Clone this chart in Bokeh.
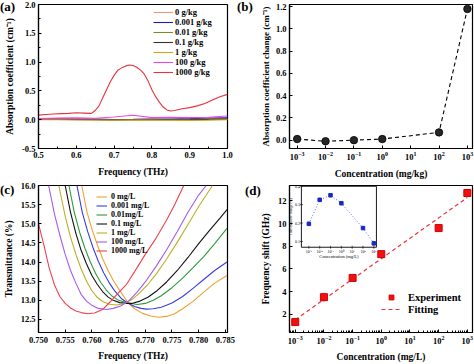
import math
from bokeh.plotting import figure
from bokeh.models import (Range1d, LogScale, FixedTicker, Legend, LegendItem, Div, GridBox,
                          Whisker, ColumnDataSource, NumeralTickFormatter, LogTicker)
from bokeh.embed import file_html
from bokeh.resources import INLINE
from bokeh.core.properties import value

FONT = "Liberation Serif"

# ---------------- Panel (a) data ----------------
a_labels = ["0 g/kg", "0.001 g/kg", "0.01 g/kg", "0.1 g/kg", "1 g/kg", "100 g/kg", "1000 g/kg"]
a_colors = ["#EA9A78", "#1A1AC8", "#7F8A2A", "#333333", "#D4A417", "#EE44EE", "#E8323C"]
a_x_small = [0.50, 0.55, 0.60, 0.65, 0.70, 0.75, 0.80, 0.85, 0.90, 0.95, 1.00]
a_y_0 = [0.005, 0.003, 0.002, 0.0, -0.005, 0.0, 0.002, 0.0, 0.003, 0.005, 0.01]
a_y_0001 = [0.012, 0.015, 0.012, 0.010, 0.004, 0.005, 0.010, 0.012, 0.018, 0.030, 0.032]
a_y_001 = [0.008, 0.010, 0.008, 0.006, 0.000, 0.004, 0.006, 0.005, 0.008, 0.012, 0.015]
a_y_01 = [0.004, 0.005, 0.003, 0.002, -0.004, 0.000, 0.002, 0.000, 0.002, 0.006, 0.010]
a_y_1 = [0.000, -0.002, -0.004, -0.006, -0.010, -0.008, -0.006, -0.010, -0.012, -0.008, 0.000]
a_y_100 = [0.020, 0.028, 0.032, 0.025, 0.048, 0.078, 0.036, 0.042, 0.036, 0.042, 0.065]
a_x_1000 = [0.50, 0.52, 0.54, 0.56, 0.58, 0.60, 0.62, 0.64, 0.65, 0.66, 0.67, 0.68, 0.69,
            0.70, 0.71, 0.72, 0.73, 0.74, 0.75, 0.76, 0.77, 0.78, 0.79, 0.80, 0.81, 0.82,
            0.83, 0.84, 0.85, 0.86, 0.88, 0.90, 0.92, 0.94, 0.96, 0.98, 1.00]
a_y_1000 = [0.08, 0.09, 0.10, 0.105, 0.11, 0.12, 0.115, 0.11, 0.16, 0.24, 0.38, 0.52, 0.66,
            0.77, 0.86, 0.90, 0.93, 0.95, 0.94, 0.91, 0.86, 0.79, 0.67, 0.52, 0.40, 0.30,
            0.22, 0.17, 0.15, 0.16, 0.19, 0.21, 0.24, 0.28, 0.34, 0.40, 0.44]
a_xticks = [0.5, 0.6, 0.7, 0.8, 0.9, 1.0]
a_yticks = [-0.5, 0.0, 0.5, 1.0, 1.5, 2.0]

# ---------------- Panel (b) data ----------------
b_conc = [1e-3, 1e-2, 1e-1, 1e0, 1e2, 1e3]
b_change = [0.01, -0.01, 0.0, 0.01, 0.07, 1.18]
b_yticks = [0.0, 0.2, 0.4, 0.6, 0.8, 1.0, 1.2]

# ---------------- Panel (c) data ----------------
c_labels = ["0 mg/L", "0.001 mg/L", "0.01mg/L", "0.1 mg/L", "1 mg/L", "100 mg/L", "1000 mg/L"]
c_colors = ["#F0A030", "#3A3AE6", "#2E9A3A", "#111111", "#BDB020", "#A55AF0", "#F0404E"]
c_x_0 = [0.7581, 0.7591, 0.7601, 0.7611, 0.7621, 0.7631, 0.7641, 0.7653, 0.7667, 0.7680,
         0.7695, 0.7710, 0.7725, 0.7740, 0.7755, 0.7770, 0.7790, 0.7810, 0.7830, 0.7853]
c_y_0 = [16.0, 15.3, 14.82, 14.42, 14.06, 13.76, 13.50, 13.24, 12.95, 12.78,
         12.66, 12.59, 12.56, 12.58, 12.65, 12.78, 12.98, 13.22, 13.45, 13.65]
c_x_0001 = [0.7572, 0.7582, 0.7592, 0.7602, 0.7612, 0.7622, 0.7632, 0.7642, 0.7655, 0.7667,
            0.7680, 0.7692, 0.7702, 0.7715, 0.7730, 0.7750, 0.7770, 0.7790, 0.7810, 0.7830, 0.7853]
c_y_0001 = [16.0, 15.3, 14.8, 14.38, 14.02, 13.72, 13.47, 13.26, 13.05, 12.93,
            12.84, 12.79, 12.77, 12.78, 12.82, 12.93, 13.10, 13.32, 13.55, 13.78, 14.0]
c_x_001 = [0.7557, 0.7567, 0.7577, 0.7587, 0.7597, 0.7607, 0.7617, 0.7627, 0.7637, 0.7650,
           0.7667, 0.7685, 0.7700, 0.7715, 0.7730, 0.7750, 0.7770, 0.7790, 0.7810, 0.7830, 0.7853]
c_y_001 = [16.0, 15.3, 14.78, 14.36, 14.0, 13.70, 13.46, 13.27, 13.12, 13.0,
           12.93, 12.89, 12.92, 13.0, 13.12, 13.33, 13.58, 13.86, 14.15, 14.48, 14.88]
c_x_01 = [0.7550, 0.7560, 0.7570, 0.7580, 0.7590, 0.7600, 0.7610, 0.7620, 0.7630, 0.7640,
          0.7652, 0.7665, 0.7675, 0.7690, 0.7705, 0.7720, 0.7740, 0.7760, 0.7780, 0.7800,
          0.7820, 0.7840, 0.7853]
c_y_01 = [16.0, 15.3, 14.75, 14.3, 13.95, 13.65, 13.42, 13.23, 13.09, 13.0,
          12.94, 12.92, 12.92, 12.98, 13.08, 13.23, 13.48, 13.78, 14.12, 14.48,
          14.82, 15.15, 15.37]
c_x_1 = [0.7538, 0.7550, 0.7560, 0.7570, 0.7580, 0.7590, 0.7600, 0.7610, 0.7620, 0.7633,
         0.7646, 0.7660, 0.7675, 0.7690, 0.7705, 0.7720, 0.7740, 0.7760, 0.7780, 0.7800, 0.7826]
c_y_1 = [16.0, 15.2, 14.65, 14.2, 13.82, 13.5, 13.25, 13.08, 12.97, 12.90,
         12.88, 12.91, 13.02, 13.20, 13.42, 13.68, 14.08, 14.52, 14.98, 15.45, 16.0]
c_x_100 = [0.7519, 0.7530, 0.7540, 0.7550, 0.7560, 0.7570, 0.7580, 0.7590, 0.7600, 0.7612,
           0.7628, 0.7640, 0.7655, 0.7670, 0.7685, 0.7700, 0.7720, 0.7740, 0.7760, 0.7780,
           0.7800, 0.7814]
c_y_100 = [16.0, 15.25, 14.70, 14.20, 13.78, 13.45, 13.15, 12.98, 12.87, 12.79,
           12.76, 12.79, 12.86, 13.00, 13.22, 13.48, 13.88, 14.32, 14.80, 15.30,
           15.75, 16.0]
c_x_1000 = [0.7500, 0.7510, 0.7520, 0.7530, 0.7540, 0.7550, 0.7560, 0.7570, 0.7580, 0.7592,
            0.7605, 0.7620, 0.7635, 0.7650, 0.7665, 0.7680, 0.7700, 0.7720, 0.7740, 0.7755, 0.7772]
c_y_1000 = [15.0, 14.45, 13.85, 13.40, 13.10, 12.92, 12.80, 12.72, 12.68, 12.65,
            12.67, 12.76, 12.97, 13.20, 13.42, 13.75, 14.20, 14.62, 15.10, 15.50, 16.0]
c_xticks = [0.750, 0.755, 0.760, 0.765, 0.770, 0.775, 0.780, 0.785]
c_yticks = [12.5, 13.0, 13.5, 14.0, 14.5, 15.0, 15.5, 16.0]

# ---------------- Panel (d) data ----------------
d_conc = [1e-3, 1e-2, 1e-1, 1e0, 1e2, 1e3]
d_shift = [1.3, 3.5, 5.2, 7.3, 9.6, 12.7]
d_err = [0.25, 0.4, 0.2, 0.3, 0.3, 0.3]
d_fit_x = [1e-3, 1e3]
d_fit_y = [1.5, 12.3]
d_yticks = [2, 4, 6, 8, 10, 12]
# inset
i_conc = [1e-3, 1e-2, 1e-1, 1e0, 1e2, 1e3]
i_change = [0.196, 0.326, 0.351, 0.308, 0.173, 0.090]
i_err = [0.012, 0.012, 0.010, 0.010, 0.010, 0.012]
i_yticks = [0.1, 0.2, 0.3, 0.4]
i_yticklabels = ["0.1", "0.2", "0.3", "0.4"]
i_xticks = [1e-3, 1e-2, 1e-1, 1e0, 1e1, 1e2, 1e3]
i_xticklabels = ["10⁻³", "10⁻²", "10⁻¹", "10⁰", "10¹", "10²", "10³"]

panel_letters = ["(a)", "(b)", "(c)", "(d)"]


def style(p, minor=True):
    p.outline_line_color = "black"
    p.outline_line_width = 1.2
    p.outline_line_alpha = 1
    p.grid.visible = False
    p.background_fill_color = "white"
    p.border_fill_color = "white"
    for ax in p.axis:
        ax.axis_line_width = 1.2
        ax.axis_line_color = "black"
        ax.major_tick_in = 3
        ax.major_tick_out = 0
        ax.minor_tick_in = 2 if minor else 0
        ax.minor_tick_out = 0
        ax.major_tick_line_width = 1
        ax.major_label_text_font = FONT
        ax.major_label_text_font_style = "bold"
        ax.major_label_text_font_size = "8.5px"
        ax.major_label_text_color = "black"
        ax.axis_label_text_font = FONT
        ax.axis_label_text_font_style = "bold"
        ax.axis_label_text_font_size = "9.5px"
        ax.axis_label_text_color = "black"
        ax.major_label_standoff = 3
        ax.axis_label_standoff = 4


def legend_style(lg, size):
    lg.border_line_color = None
    lg.background_fill_alpha = 0
    lg.label_text_font = FONT
    lg.label_text_font_style = "bold"
    lg.label_text_font_size = size
    lg.label_text_color = "black"
    lg.padding = 2
    lg.spacing = 0
    lg.margin = 0


def letter_div(txt, top, left):
    return Div(text=txt, width=22, height=16, margin=(top, 0, 0, left), align="start",
               styles={"font-family": FONT, "font-size": "13px", "font-weight": "bold",
                       "line-height": "13px", "color": "black"})


# ================= (a) =================
pa = figure(width=237, height=182, x_range=Range1d(0.5, 1.0), y_range=Range1d(-0.5, 2.0),
            output_backend="svg", toolbar_location=None,
            min_border_left=35, min_border_right=10, min_border_top=3, min_border_bottom=31)
a_series = [(a_x_small, a_y_0), (a_x_small, a_y_0001), (a_x_small, a_y_001),
            (a_x_small, a_y_01), (a_x_small, a_y_1), (a_x_small, a_y_100),
            (a_x_1000, a_y_1000)]
a_items = []
for (xs, ys), lab, col in zip(a_series, a_labels, a_colors):
    r = pa.line(xs, ys, line_color=col, line_width=1.1)
    a_items.append(LegendItem(label=lab, renderers=[r]))
pa.xaxis.axis_label = "Frequency (THz)"
pa.yaxis.axis_label = "Absorption coefficient (cm⁻¹)"
pa.xaxis.ticker = FixedTicker(ticks=a_xticks, minor_ticks=[0.55, 0.65, 0.75, 0.85, 0.95])
pa.yaxis.ticker = FixedTicker(ticks=a_yticks, minor_ticks=[-0.25, 0.25, 0.75, 1.25, 1.75])
pa.xaxis.formatter = NumeralTickFormatter(format="0.0")
pa.yaxis.formatter = NumeralTickFormatter(format="0.0")
style(pa)
pa.xaxis.axis_label_standoff = 6
lga = Legend(items=a_items, location=(115, 71), glyph_width=20, glyph_height=10,
             label_height=10, label_standoff=2)
legend_style(lga, "8.5px")
pa.add_layout(lga)

# ================= (b) =================
bx0, bx1 = 10 ** -3.27, 10 ** 3.18
pb = figure(width=237, height=182, x_axis_type="log", x_range=Range1d(bx0, bx1),
            y_range=Range1d(-0.075, 1.22), output_backend="svg", toolbar_location=None,
            min_border_left=52, min_border_right=2, min_border_top=4, min_border_bottom=34)
pb.line(b_conc, b_change, line_color="black", line_width=1.1, line_dash="4 3")
pb.scatter(b_conc, b_change, size=7.5, fill_color="#262626", line_color="black", line_width=0.8)
pb.xaxis.axis_label = "Concentration (mg/kg)"
pb.yaxis.axis_label = "Absorption coefficient change (cm⁻¹)"
pb.xaxis.ticker = LogTicker(num_minor_ticks=0)
pb.yaxis.ticker = FixedTicker(ticks=b_yticks)
pb.yaxis.formatter = NumeralTickFormatter(format="0.0")
style(pb, minor=False)
pb.yaxis.axis_label_text_font_size = "9px"
pb.yaxis.axis_label_standoff = 2
pb.xaxis.axis_label_standoff = 6

# ================= (c) =================
pc = figure(width=237, height=182, x_range=Range1d(0.750, 0.7854), y_range=Range1d(12.16, 16.0),
            output_backend="svg", toolbar_location=None,
            min_border_left=38, min_border_right=1, min_border_top=2, min_border_bottom=26)
c_series = [(c_x_0, c_y_0), (c_x_0001, c_y_0001), (c_x_001, c_y_001), (c_x_01, c_y_01),
            (c_x_1, c_y_1), (c_x_100, c_y_100), (c_x_1000, c_y_1000)]
c_items = []
for (xs, ys), lab, col in zip(c_series, c_labels, c_colors):
    r = pc.line(xs, ys, line_color=col, line_width=1.1)
    c_items.append(LegendItem(label=lab, renderers=[r]))
pc.xaxis.axis_label = "Frequency (THz)"
pc.yaxis.axis_label = "Transmittance (%)"
pc.xaxis.ticker = FixedTicker(ticks=c_xticks)
pc.yaxis.ticker = FixedTicker(ticks=c_yticks)
pc.xaxis.formatter = NumeralTickFormatter(format="0.000")
pc.yaxis.formatter = NumeralTickFormatter(format="0.0")
style(pc, minor=False)
pc.xaxis.major_label_standoff = 4
pc.xaxis.axis_label_standoff = 5
lgc = Legend(items=c_items, location=(58, 77), glyph_width=11, glyph_height=9,
             label_height=9, label_standoff=4)
legend_style(lgc, "8px")
pc.add_layout(lgc)

# ================= (d) =================
dx0, dx1 = 10 ** -3.2, 10 ** 3.18
dy0, dy1 = 0.38, 13.36
pdd = figure(width=237, height=182, x_axis_type="log", x_range=Range1d(dx0, dx1),
             y_range=Range1d(dy0, dy1), output_backend="svg", toolbar_location=None,
             min_border_left=48, min_border_right=1, min_border_top=3, min_border_bottom=29)
fit_r = pdd.line(d_fit_x, d_fit_y, line_color="#E8323C", line_width=1.2, line_dash="4 3")
srcd = ColumnDataSource(dict(x=d_conc, y=d_shift,
                             lo=[v - e for v, e in zip(d_shift, d_err)],
                             hi=[v + e for v, e in zip(d_shift, d_err)]))
pdd.add_layout(Whisker(source=srcd, base="x", lower="lo", upper="hi", line_color="#E8323C",
                       line_width=1, upper_head=None, lower_head=None))
exp_r = pdd.scatter("x", "y", source=srcd, marker="square", size=7, fill_color="#F01010",
                    line_color="#D00000")
pdd.xaxis.axis_label = "Concentration (mg/L)"
pdd.yaxis.axis_label = "Frequency shift (GHz)"
pdd.xaxis.ticker = LogTicker(num_minor_ticks=10)
pdd.yaxis.ticker = FixedTicker(ticks=d_yticks)
style(pdd)
pdd.xaxis.axis_label_standoff = 5
lgd = Legend(items=[LegendItem(label="Experiment", renderers=[exp_r]),
                    LegendItem(label="Fitting", renderers=[fit_r])],
             location=(92, 17), glyph_width=20, glyph_height=12, label_height=12,
             label_standoff=7)
legend_style(lgd, "10.5px")
pdd.add_layout(lgd)

# ---- inset inside (d), drawn through its own (extra) ranges ----
ifx0, ifx1, ify0, ify1 = 0.065, 0.475, 0.58, 0.995   # inset box as fractions of frame
ilx0, ilx1 = -3.69, 3.24          # inset x extent (log10)
iy0, iy1 = 0.069, 0.40             # inset y extent
xspan = (ilx1 - ilx0) / (ifx1 - ifx0)
xs0 = ilx0 - ifx0 * xspan
yspan = (iy1 - iy0) / (ify1 - ify0)
ys0 = iy0 - ify0 * yspan
pdd.extra_x_ranges = {"ix": Range1d(10 ** xs0, 10 ** (xs0 + xspan))}
pdd.extra_x_scales = {"ix": LogScale()}
pdd.extra_y_ranges = {"iy": Range1d(ys0, ys0 + yspan)}
kw = dict(x_range_name="ix", y_range_name="iy")
pdd.quad(left=[10 ** ilx0], right=[10 ** ilx1], bottom=[iy0], top=[iy1],
         fill_color="white", line_color="black", line_width=0.9, **kw)
pdd.line(i_conc, i_change, line_color="#4A62E8", line_width=0.9, line_dash="1 2", **kw)
isrc = ColumnDataSource(dict(x=i_conc, lo=[v - e for v, e in zip(i_change, i_err)],
                             hi=[v + e for v, e in zip(i_change, i_err)]))
pdd.segment(x0="x", y0="lo", x1="x", y1="hi", source=isrc, line_color="#2030C0",
            line_width=0.7, **kw)
pdd.scatter(i_conc, i_change, marker="square", size=3.5, fill_color="#1828C8",
            line_color="#1828C8", **kw)
pdd.scatter(i_xticks, [iy0] * len(i_xticks), marker="dash", angle=math.pi / 2, size=3,
            line_color="black", line_width=0.6, **kw)
pdd.scatter([10 ** ilx0] * len(i_yticks), i_yticks, marker="dash", size=3,
            line_color="black", line_width=0.6, **kw)
pdd.text(i_xticks, [iy0] * len(i_xticks), text=i_xticklabels, text_font=value(FONT),
         text_font_size="4px", text_align="center", text_baseline="top", y_offset=1.5, **kw)
pdd.text([10 ** ilx0] * len(i_yticks), i_yticks, text=i_yticklabels, text_font=value(FONT),
         text_font_size="4px", text_align="right", text_baseline="middle", x_offset=-1.5, **kw)
pdd.text([10 ** ((ilx0 + ilx1) / 2)], [iy0], text=["Concentration (mg/L)"],
         text_font=value(FONT), text_font_size="4.5px", text_align="center",
         text_baseline="top", y_offset=7, **kw)
pdd.text([10 ** ilx0], [(iy0 + iy1) / 2], text=["Transmittance change (%)"],
         text_font=value(FONT), text_font_size="3.5px", text_align="center",
         text_baseline="bottom", angle=math.pi / 2, x_offset=-8, **kw)

# ---- layout: figures in a grid, panel letters overlaid in the same cells ----
div_a = letter_div(panel_letters[0], 0, 0)
div_b = letter_div(panel_letters[1], 0, 0)
div_c = letter_div(panel_letters[2], 1, 0)
div_d = letter_div(panel_letters[3], 2, 8)
layout = GridBox(children=[(pa, 0, 0), (pb, 0, 1), (pc, 1, 0), (pdd, 1, 1),
                           (div_a, 0, 0), (div_b, 0, 1), (div_c, 1, 0), (div_d, 1, 1)],
                 spacing=0)
open("out.html", "w").write(file_html(layout, INLINE))
